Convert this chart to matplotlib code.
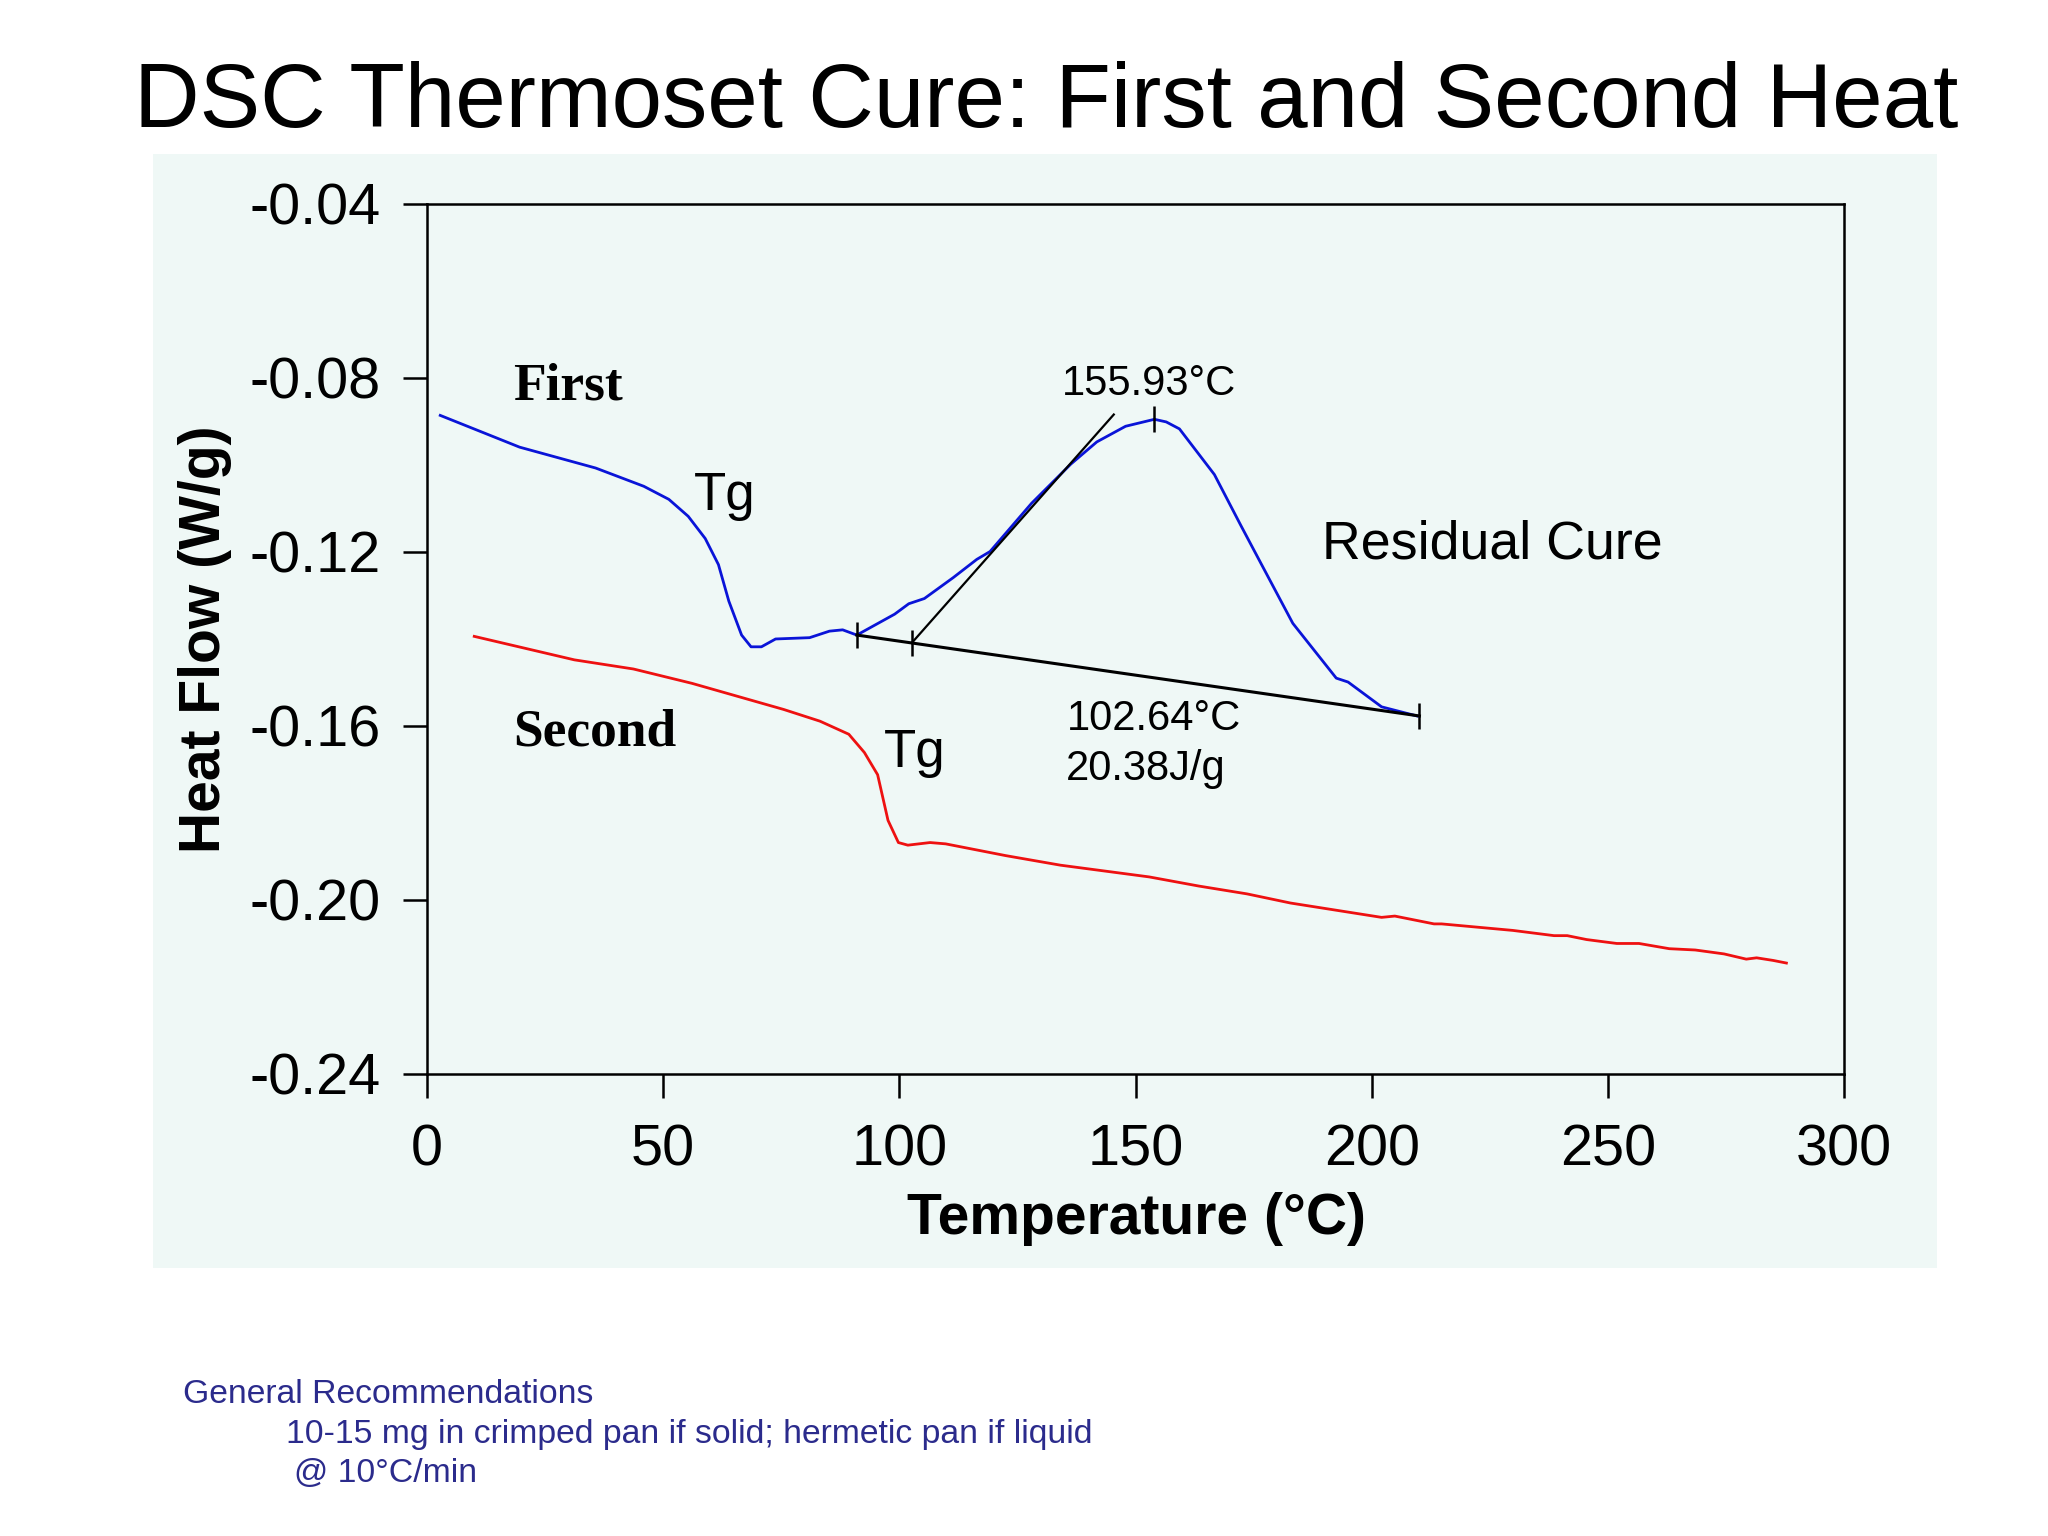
import matplotlib
matplotlib.use("Agg")
import matplotlib.pyplot as plt

# ---------------- data ----------------
first_T = [2.8, 19.6, 35.7, 45.9, 51.2, 55.3, 58.9, 61.7, 63.9, 66.6, 68.6, 70.8,
           73.8, 81.0, 85.2, 88.0, 91.0, 99.0, 102.0, 105.3, 111.4, 116.4, 119.2,
           128.0, 136.3, 141.8, 147.9, 154.0, 156.5, 159.3, 166.7, 172.3, 176.4,
           183.3, 192.5, 195.0, 202.1, 209.6]
first_HF = [-0.0886, -0.0959, -0.1007, -0.1049, -0.1079, -0.1118, -0.1169, -0.1229,
            -0.1313, -0.1391, -0.1418, -0.1418, -0.1400, -0.1397, -0.1382, -0.1379,
            -0.1391, -0.1343, -0.1319, -0.1307, -0.1259, -0.1217, -0.1199, -0.1088,
            -0.0998, -0.0947, -0.0911, -0.0895, -0.0901, -0.0917, -0.1022, -0.1139,
            -0.1223, -0.1364, -0.1490, -0.1499, -0.1556, -0.1577]

second_T = [10.0, 31.2, 43.7, 56.1, 75.5, 83.2, 89.3, 92.6, 95.4, 97.6, 99.8, 101.8,
            106.5, 109.8, 122.5, 134.1, 152.9, 163.4, 173.6, 182.8, 202.1, 204.9,
            213.2, 214.8, 229.9, 238.6, 241.4, 245.5, 251.9, 256.6, 263.0, 268.5,
            274.6, 279.3, 281.5, 285.0, 287.8]
second_HF = [-0.1394, -0.1448, -0.1469, -0.1502, -0.1562, -0.1589, -0.1619, -0.1661,
             -0.1712, -0.1817, -0.1868, -0.1874, -0.1868, -0.1871, -0.1898, -0.1920,
             -0.1947, -0.1968, -0.1986, -0.2007, -0.2040, -0.2037, -0.2055, -0.2055,
             -0.2070, -0.2082, -0.2082, -0.2091, -0.2100, -0.2100, -0.2112, -0.2115,
             -0.2124, -0.2136, -0.2133, -0.2139, -0.2145]

baseline_T = [91.0, 210.1]
baseline_HF = [-0.1391, -0.1577]
tangent_T = [102.64, 145.4]
tangent_HF = [-0.1409, -0.0884]
marks_T = [91.0, 102.64, 154.0, 210.1]
marks_HF = [-0.1391, -0.1409, -0.0895, -0.1577]

x_ticks = [0, 50, 100, 150, 200, 250, 300]
y_ticks = [-0.24, -0.20, -0.16, -0.12, -0.08, -0.04]
y_ticklabels = ["-0.24", "-0.20", "-0.16", "-0.12", "-0.08", "-0.04"]

title = "DSC Thermoset Cure: First and Second Heat"
footer = ["General Recommendations",
          "10-15 mg in crimped pan if solid; hermetic pan if liquid",
          "@ 10°C/min"]

# ---------------- figure ----------------
SANS = ["Liberation Sans", "DejaVu Sans"]
SERIF = ["Liberation Serif", "DejaVu Serif"]
plt.rcParams["font.family"] = SANS

fig = plt.figure(figsize=(20.48, 15.36), dpi=100)
fig.patch.set_facecolor("white")

# light panel behind the chart
bg = fig.add_axes([0.0747, 0.1745, 0.871, 0.7253], zorder=-5)
bg.set_facecolor("#eff8f6")
bg.set_xticks([])
bg.set_yticks([])
for s in bg.spines.values():
    s.set_visible(False)

ax = fig.add_axes([0.2085, 0.3008, 0.6919, 0.5664], zorder=1)
ax.set_facecolor("none")

ax.plot(first_T, first_HF, color="#0a14d8", lw=2.0, zorder=3)
ax.plot(second_T, second_HF, color="#ee1111", lw=2.0, zorder=3)
ax.plot(baseline_T, baseline_HF, color="black", lw=2.2, zorder=4)
ax.plot(tangent_T, tangent_HF, color="black", lw=1.6, zorder=4)
ax.plot(marks_T, marks_HF, linestyle="none", marker="|", markersize=19,
        markeredgewidth=1.8, color="black", zorder=5)

ax.set_xlim(0, 300)
ax.set_ylim(-0.24, -0.04)
ax.set_xticks(x_ticks)
ax.set_yticks(y_ticks)
ax.set_yticklabels(y_ticklabels)
ax.tick_params(axis="both", which="major", direction="out", length=17, width=1.8,
               labelsize=41.5, colors="black")
ax.tick_params(axis="y", pad=16.5)
ax.tick_params(axis="x", pad=19)
for side in ["top", "right", "left", "bottom"]:
    ax.spines[side].set_linewidth(1.8)
    ax.spines[side].set_color("black")

ax.set_xlabel("Temperature (°C)", fontsize=41, fontweight="bold")
ax.xaxis.set_label_coords(0.5004, -0.184)
ax.xaxis.label.set_verticalalignment("baseline")
ax.set_ylabel("Heat Flow (W/g)", fontsize=41, fontweight="bold")
ax.yaxis.set_label_coords(-0.157, 0.5)
ax.yaxis.label.set_verticalalignment("center")

# annotations
ax.text(18.2, -0.0850, "First", fontsize=38.5, fontweight="bold", family=SERIF,
        ha="left", va="baseline")
ax.text(18.2, -0.1646, "Second", fontsize=38.5, fontweight="bold", family=SERIF,
        ha="left", va="baseline")
ax.text(56.4, -0.1103, "Tg", fontsize=38, ha="left", va="baseline")
ax.text(96.8, -0.1694, "Tg", fontsize=38, ha="left", va="baseline")
ax.text(134.4, -0.0838, "155.93°C", fontsize=30, ha="left", va="baseline")
ax.text(135.5, -0.1610, "102.64°C", fontsize=30, ha="left", va="baseline")
ax.text(135.2, -0.1724, "20.38J/g", fontsize=30, ha="left", va="baseline")
ax.text(189.4, -0.1214, "Residual Cure", fontsize=38.7, ha="left", va="baseline")

fig.text(0.511, 0.917, title, fontsize=65.3, ha="center", va="baseline")

navy = "#2b2b8c"
fig.text(0.0893, 0.0866, footer[0], fontsize=24.3, color=navy, ha="left", va="baseline")
fig.text(0.1397, 0.0605, footer[1], fontsize=24.3, color=navy, ha="left", va="baseline")
fig.text(0.1435, 0.0350, footer[2], fontsize=24.3, color=navy, ha="left", va="baseline")

fig.savefig("out.png", dpi=100, facecolor="white")
